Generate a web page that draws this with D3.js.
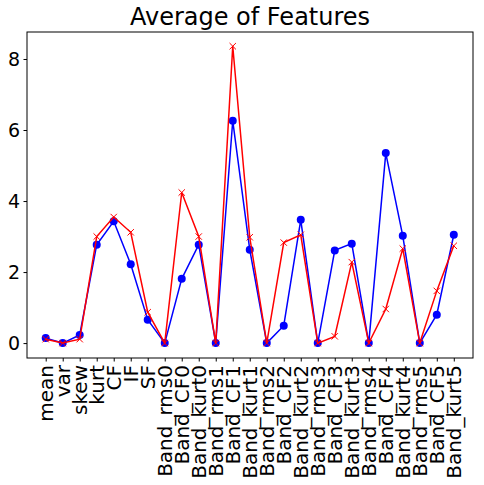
<!DOCTYPE html>
<html>
<head>
<meta charset="utf-8">
<script src="https://cdn.jsdelivr.net/npm/d3@7"></script>
<style>
body{margin:0;background:#fff;}
svg text{font-family:"DejaVu Sans",sans-serif;}
</style>
</head>
<body>
<div id="chart"></div>
<script>
// feature names along the x axis
var features=["mean","var","skew","kurt","CF","IF","SF",
	"Band_rms0","Band_CF0","Band_kurt0","Band_rms1","Band_CF1","Band_kurt1",
	"Band_rms2","Band_CF2","Band_kurt2","Band_rms3","Band_CF3","Band_kurt3",
	"Band_rms4","Band_CF4","Band_kurt4","Band_rms5","Band_CF5","Band_kurt5"];
// blue series (circles)
var blueVals=[0.14,0.0,0.23,2.77,3.43,2.22,0.66,0.0,1.81,2.77,0.0,6.26,2.63,
	0.0,0.49,3.47,0.0,2.61,2.80,0.0,5.35,3.02,0.0,0.80,3.05];
// red series (x marks)
var redVals=[0.11,0.0,0.11,3.00,3.55,3.12,0.87,0.0,4.24,3.00,0.0,8.36,2.98,
	0.0,2.83,3.05,0.0,0.19,2.28,0.0,0.96,2.66,0.0,1.47,2.74];
var yTicks=[0,2,4,6,8];

var W=484,H=485;
var mLeft=27,mRight=473,mTop=32,mBottom=358;

var svg=d3.select("#chart").append("svg")
	.attr("width",W).attr("height",H);

// index scale, with matplotlib-like margins
var x=d3.scaleLinear().domain([-1.1,features.length-1+1.13]).range([mLeft,mRight]);
var y=d3.scaleLinear().domain([-0.42,8.76]).range([mBottom,mTop]);

var xAxis=d3.axisBottom(x)
	.tickValues(d3.range(features.length))
	.tickFormat(function(i){return features[i];})
	.tickSize(3.5).tickPadding(3.5);
var gx=svg.append("g").attr("transform","translate(0,"+mBottom+")").call(xAxis)
	.attr("font-family","DejaVu Sans").attr("font-size",20);
gx.select(".domain").remove();
gx.selectAll("text")
	.attr("fill","#000")
	.attr("transform","rotate(-90)")
	.attr("text-anchor","end")
	.attr("x",-7)
	.attr("y",0)
	.attr("dy","0.35em");

var yAxis=d3.axisLeft(y).tickValues(yTicks).tickSize(3.5).tickPadding(3.5);
var gy=svg.append("g").attr("transform","translate("+mLeft+",0)").call(yAxis)
	.attr("font-family","DejaVu Sans").attr("font-size",19);
gy.select(".domain").remove();
gy.selectAll("text").attr("fill","#000");

// frame
svg.append("rect")
	.attr("x",mLeft).attr("y",mTop)
	.attr("width",mRight-mLeft).attr("height",mBottom-mTop)
	.attr("fill","none").attr("stroke","#000").attr("stroke-width",1);

var line=d3.line().x(function(d,i){return x(i);}).y(function(d){return y(d);});

// blue first, red drawn over it
svg.append("path").datum(blueVals)
	.attr("d",line).attr("fill","none").attr("stroke","#0000ff").attr("stroke-width",1.5);
svg.selectAll(".dot").data(blueVals).enter().append("circle")
	.attr("class","dot")
	.attr("cx",function(d,i){return x(i);})
	.attr("cy",function(d){return y(d);})
	.attr("r",4).attr("fill","#0000ff");

svg.append("path").datum(redVals)
	.attr("d",line).attr("fill","none").attr("stroke","#ff0000").attr("stroke-width",1.5);
var s=3.2;
svg.selectAll(".xm").data(redVals).enter().append("path")
	.attr("class","xm")
	.attr("d",function(d,i){
		var cx=x(i),cy=y(d);
		return "M"+(cx-s)+","+(cy-s)+"L"+(cx+s)+","+(cy+s)+"M"+(cx-s)+","+(cy+s)+"L"+(cx+s)+","+(cy-s);
	})
	.attr("stroke","#ff0000").attr("stroke-width",1).attr("fill","none");

svg.append("text")
	.attr("x",(mLeft+mRight)/2).attr("y",25)
	.attr("text-anchor","middle")
	.attr("font-size",24)
	.text("Average of Features");
</script>
</body>
</html>
